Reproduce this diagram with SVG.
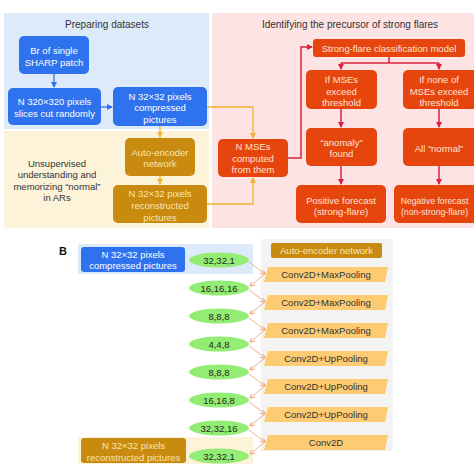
<svg xmlns="http://www.w3.org/2000/svg" width="474" height="474" viewBox="0 0 474 474">
<style>
text{font-family:"Liberation Sans",Arial,sans-serif;font-size:9.5px;text-anchor:middle}
.title{fill:#333;font-size:10px}
.blue rect{fill:#2F72EE}
.blue text{fill:#fff}
.gold rect{fill:#C98A10}
.gold text{fill:#FBE6B0}
.red rect{fill:#E6450E}
.red text{fill:#FFE3D4}
.lay polygon{fill:#FDCB72}
.lay text{fill:#333}
.ell ellipse{fill:#93EC73}
.ell text{fill:#1f2a1a}
.bl{stroke:#2F72EE;stroke-width:1.3;fill:none}
.gl{stroke:#F2B531;stroke-width:1.3;fill:none}
.rl{stroke:#D9223E;stroke-width:1.5;fill:none}
.zl{stroke:#E8A07A;stroke-width:0.8;fill:none}
</style>
<defs>
<marker id="ab" markerWidth="6" markerHeight="6" refX="5" refY="3" orient="auto" markerUnits="userSpaceOnUse"><path d="M0,0L6,3L0,6z" fill="#2F72EE"/></marker>
<marker id="ag" markerWidth="6" markerHeight="6" refX="5" refY="3" orient="auto" markerUnits="userSpaceOnUse"><path d="M0,0L6,3L0,6z" fill="#F2B531"/></marker>
<marker id="ar" markerWidth="6" markerHeight="6" refX="5" refY="3" orient="auto" markerUnits="userSpaceOnUse"><path d="M0,0L6,3L0,6z" fill="#D9223E"/></marker>
<marker id="az" markerWidth="5" markerHeight="5" refX="4.5" refY="2.5" orient="auto" markerUnits="userSpaceOnUse"><path d="M0,0L5,2.5L0,5" fill="none" stroke="#E8A07A" stroke-width="0.8"/></marker>
</defs>
<rect width="474" height="474" fill="#fff"/>
<!-- panels -->
<g id="panels">
<rect x="4" y="13" width="205" height="116" fill="#DDEAF9"/>
<rect x="4" y="131" width="205" height="97" fill="#FDF3D8"/>
<rect x="212" y="13" width="262" height="215" fill="#FDE3E3"/>
<rect x="78" y="244" width="175" height="30" fill="#DDEAF9"/>
<rect x="78" y="437" width="175" height="27" fill="#FDF3D8"/>
<rect x="261" y="239" width="132" height="212" fill="#F3F3F3"/>
</g>
<text class="title" x="107" y="28">Preparing datasets</text>
<text class="title" x="350" y="28">Identifying the precursor of strong flares</text>
<text x="57" y="166.5" fill="#333">Unsupervised</text>
<text x="57" y="178" fill="#333">understanding and</text>
<text x="57" y="189.5" fill="#333">memorizing “normal”</text>
<text x="57" y="201" fill="#333">in ARs</text>
<text x="63" y="255" style="font-weight:bold;font-size:11px;fill:#111">B</text>
<!-- connectors -->
<g id="connectors">
<path class="bl" d="M54,74V87" marker-end="url(#ab)"/>
<path class="bl" d="M101,107H112" marker-end="url(#ab)"/>
<path class="gl" d="M160,126V137" marker-end="url(#ag)"/>
<path class="gl" d="M160,176V184" marker-end="url(#ag)"/>
<path class="gl" d="M207,107H253V138" marker-end="url(#ag)"/>
<path class="gl" d="M207,204H253V178" marker-end="url(#ag)"/>
<path class="rl" d="M288,158H301V47H312" marker-end="url(#ar)"/>
<path class="rl" d="M389,57V63M341,63H439"/>
<path class="rl" d="M341,63V69" marker-end="url(#ar)"/>
<path class="rl" d="M439,63V69" marker-end="url(#ar)"/>
<path class="rl" d="M341,109V127" marker-end="url(#ar)"/>
<path class="rl" d="M439,109V127" marker-end="url(#ar)"/>
<path class="rl" d="M341,166V184" marker-end="url(#ar)"/>
<path class="rl" d="M439,166V184" marker-end="url(#ar)"/>
<path class="zl" d="M249,262L265,274" marker-end="url(#az)"/>
<path class="zl" d="M265,274L250,286" marker-end="url(#az)"/>
<path class="zl" d="M249,290L265,302" marker-end="url(#az)"/>
<path class="zl" d="M265,302L250,314" marker-end="url(#az)"/>
<path class="zl" d="M249,318L265,330" marker-end="url(#az)"/>
<path class="zl" d="M265,330L250,342" marker-end="url(#az)"/>
<path class="zl" d="M249,346L265,358" marker-end="url(#az)"/>
<path class="zl" d="M265,358L250,370" marker-end="url(#az)"/>
<path class="zl" d="M249,374L265,386" marker-end="url(#az)"/>
<path class="zl" d="M265,386L250,398" marker-end="url(#az)"/>
<path class="zl" d="M249,402L265,414" marker-end="url(#az)"/>
<path class="zl" d="M265,414L250,426" marker-end="url(#az)"/>
<path class="zl" d="M249,430L265,442" marker-end="url(#az)"/>
<path class="zl" d="M265,442L250,454" marker-end="url(#az)"/>
</g>
<!-- part A nodes -->
<g id="br" class="blue"><rect x="19" y="36" width="70" height="38" rx="5"/><text x="54" y="53.5">Br of single</text><text x="54" y="65.5">SHARP patch</text></g>
<g id="slices" class="blue"><rect x="8" y="88" width="93" height="37" rx="5"/><text x="54.5" y="104.5">N 320×320 pixels</text><text x="54.5" y="116.5">slices cut randomly</text></g>
<g id="compressed" class="blue"><rect x="113" y="87" width="94" height="39" rx="5"/><text x="160" y="99.5">N 32×32 pixels</text><text x="160" y="111">compressed</text><text x="160" y="122.5">pictures</text></g>
<g id="autoenc" class="gold"><rect x="125" y="138" width="70" height="38" rx="5"/><text x="160" y="155.5">Auto-encoder</text><text x="160" y="167">network</text></g>
<g id="recon" class="gold"><rect x="113" y="185" width="94" height="38" rx="5"/><text x="160" y="196.5">N 32×32 pixels</text><text x="160" y="208.5">reconstructed</text><text x="160" y="220.5">pictures</text></g>
<g id="mses" class="red"><rect x="218" y="139" width="70" height="38" rx="5"/><text x="253" y="149.5">N MSEs</text><text x="253" y="161.5">computed</text><text x="253" y="173">from them</text></g>
<g id="model" class="red"><rect x="313" y="39" width="152" height="18" rx="3"/><text x="389" y="51.5">Strong-flare classification model</text></g>
<g id="exceed" class="red"><rect x="306" y="70" width="71" height="39" rx="5"/><text x="341.5" y="82.5">If MSEs</text><text x="341.5" y="94.5">exceed</text><text x="341.5" y="105.5">threshold</text></g>
<g id="none" class="red"><rect x="403" y="70" width="76" height="39" rx="5"/><text x="439" y="82.5">If none of</text><text x="439" y="94.5">MSEs exceed</text><text x="439" y="105.5">threshold</text></g>
<g id="anomaly" class="red"><rect x="306" y="128" width="71" height="38" rx="5"/><text x="341.5" y="145.5">“anomaly”</text><text x="341.5" y="156.5">found</text></g>
<g id="allnormal" class="red"><rect x="403" y="128" width="76" height="38" rx="5"/><text x="439" y="151.5">All “normal”</text></g>
<g id="positive" class="red"><rect x="296" y="185" width="90" height="38" rx="5"/><text x="341" y="203.5">Positive forecast</text><text x="341" y="214.5">(strong-flare)</text></g>
<g id="negative" class="red"><rect x="394" y="185" width="90" height="38" rx="5"/><text x="434.5" y="203.5" style="font-size:8.7px">Negative forecast</text><text x="434.5" y="214.5" style="font-size:8.7px">(non-strong-flare)</text></g>
<!-- part B nodes -->
<g id="b-compressed" class="blue"><rect x="81" y="247" width="104" height="25" rx="3"/><text x="133" y="257.5">N 32×32 pixels</text><text x="133" y="269">compressed pictures</text></g>
<g id="b-recon" class="gold"><rect x="81" y="438" width="105" height="25" rx="3"/><text x="133.5" y="449">N 32×32 pixels</text><text x="133.5" y="460.5">reconstructed pictures</text></g>
<g id="b-autoenc" class="gold"><rect x="271" y="243" width="111" height="15" rx="2"/><text x="326.5" y="254">Auto-encoder network</text></g>
<g id="e1" class="ell"><ellipse cx="219" cy="260" rx="30" ry="7.5"/><text x="219" y="263.5">32,32,1</text></g>
<g id="e2" class="ell"><ellipse cx="219" cy="288" rx="30" ry="7.5"/><text x="219" y="291.5">16,16,16</text></g>
<g id="e3" class="ell"><ellipse cx="219" cy="316" rx="30" ry="7.5"/><text x="219" y="319.5">8,8,8</text></g>
<g id="e4" class="ell"><ellipse cx="219" cy="344" rx="30" ry="7.5"/><text x="219" y="347.5">4,4,8</text></g>
<g id="e5" class="ell"><ellipse cx="219" cy="372" rx="30" ry="7.5"/><text x="219" y="375.5">8,8,8</text></g>
<g id="e6" class="ell"><ellipse cx="219" cy="400" rx="30" ry="7.5"/><text x="219" y="403.5">16,16,8</text></g>
<g id="e7" class="ell"><ellipse cx="219" cy="428" rx="30" ry="7.5"/><text x="219" y="431.5">32,32,16</text></g>
<g id="e8" class="ell"><ellipse cx="219" cy="456" rx="30" ry="7.5"/><text x="219" y="459.5">32,32,1</text></g>
<g id="l1" class="lay"><polygon points="268,267 388,267 385,282 264,282"/><text x="326" y="278">Conv2D+MaxPooling</text></g>
<g id="l2" class="lay"><polygon points="268,295 388,295 385,310 264,310"/><text x="326" y="306">Conv2D+MaxPooling</text></g>
<g id="l3" class="lay"><polygon points="268,323 388,323 385,338 264,338"/><text x="326" y="334">Conv2D+MaxPooling</text></g>
<g id="l4" class="lay"><polygon points="268,351 388,351 385,366 264,366"/><text x="326" y="362">Conv2D+UpPooling</text></g>
<g id="l5" class="lay"><polygon points="268,379 388,379 385,394 264,394"/><text x="326" y="390">Conv2D+UpPooling</text></g>
<g id="l6" class="lay"><polygon points="268,407 388,407 385,422 264,422"/><text x="326" y="418">Conv2D+UpPooling</text></g>
<g id="l7" class="lay"><polygon points="268,435 388,435 385,450 264,450"/><text x="326" y="446">Conv2D</text></g>
</svg>
